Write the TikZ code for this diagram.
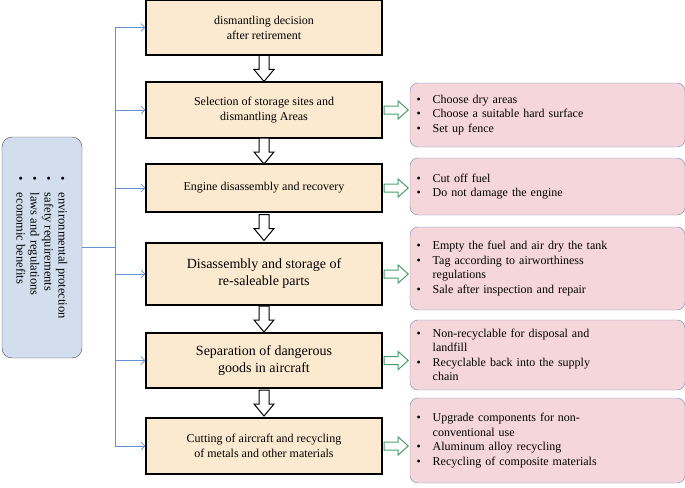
\documentclass[tikz,border=0pt]{standalone}
\usepackage{fontspec}
\setmainfont{Liberation Serif}
\usetikzlibrary{arrows.meta}
\definecolor{mainfill}{RGB}{252,234,208}
\definecolor{pinkfill}{RGB}{245,214,218}
\definecolor{bluefill}{RGB}{210,222,238}
\definecolor{bluedraw}{RGB}{110,140,190}
\definecolor{linecol}{RGB}{100,145,210}
\definecolor{greencol}{RGB}{70,160,110}
\begin{document}
\begin{tikzpicture}[x=1pt,y=-1pt,
 mainbox/.style={draw=black,line width=1.2pt,fill=mainfill,minimum width=236pt,align=center,font=\fontsize{12}{15}\selectfont,inner sep=2pt},
 infobox/.style={draw=bluedraw,fill=pinkfill,rounded corners=8pt,minimum width=275pt,text width=262pt,align=left,font=\fontsize{12}{14.5}\selectfont,inner sep=4pt},
 hollowd/.style={draw=black,fill=white,line width=1pt},
 hollowr/.style={draw=greencol,fill=white,line width=1pt},
 conn/.style={draw=linecol,thick,-{Straight Barb[length=4pt]}}]
\useasboundingbox (0,0) rectangle (685,487);
\node[mainbox,minimum height=55pt] (m1) at (264,27.5) {dismantling decision\\after retirement};
\node[mainbox,minimum height=56pt] (m2) at (264,110) {Selection of storage sites and\\dismantling Areas};
\node[mainbox,minimum height=48pt] (m3) at (264,188) {Engine disassembly and recovery};
\node[mainbox,minimum height=62pt,font=\fontsize{14}{17}\selectfont] (m4) at (264,274) {Disassembly and storage of\\re-saleable parts};
\node[mainbox,minimum height=55pt,font=\fontsize{14}{17}\selectfont] (m5) at (264,360.5) {Separation of dangerous\\goods in aircraft};
\node[mainbox,minimum height=56pt] (m6) at (264,446) {Cutting of aircraft and recycling\\of metals and other materials};
\foreach \a/\b in {m1/m2,m2/m3,m3/m4,m4/m5,m5/m6}{
 \path (\a.south) -- (\b.north) coordinate[midway] (c\a);
 \draw[hollowd,shift={(c\a)}] (-5,-13) -- (5,-13) -- (5,1) -- (10,1) -- (0,13) -- (-10,1) -- (-5,1) -- cycle;}
\node[infobox,minimum height=64pt] (r1) at (547.5,115) {\textbullet\quad Choose dry areas\\\textbullet\quad Choose a suitable hard surface\\\textbullet\quad Set up fence};
\node[infobox,minimum height=57pt] (r2) at (547.5,186.5) {\textbullet\quad Cut off fuel\\\textbullet\quad Do not damage the engine};
\node[infobox,minimum height=83pt] (r3) at (547.5,268.5) {\textbullet\quad Empty the fuel and air dry the tank\\\textbullet\quad Tag according to airworthiness\\\hphantom{\textbullet}\quad regulations\\\textbullet\quad Sale after inspection and repair};
\node[infobox,minimum height=70pt] (r4) at (547.5,355) {\textbullet\quad Non-recyclable for disposal and\\\hphantom{\textbullet}\quad landfill\\\textbullet\quad Recyclable back into the supply\\\hphantom{\textbullet}\quad chain};
\node[infobox,minimum height=85pt] (r5) at (547.5,440.5) {\textbullet\quad Upgrade components for non-\\\hphantom{\textbullet}\quad conventional use\\\textbullet\quad Aluminum alloy recycling\\\textbullet\quad Recycling of composite materials};
\foreach \a/\b in {m2/r1,m3/r2,m4/r3,m5/r4,m6/r5}{
 \path (\a.east) -- (\a.east -| \b.west) coordinate[midway] (d\a);
 \draw[hollowr,shift={(d\a)}] (-12,-4) -- (2,-4) -- (2,-9) -- (12,0) -- (2,9) -- (2,4) -- (-12,4) -- cycle;}
\node[draw=black!70,fill=bluefill,rounded corners=10pt,minimum width=80pt,minimum height=221pt,inner sep=0pt] (l) at (42,247.5) {};
\node[rotate=-90,align=left,font=\fontsize{12.5}{14}\selectfont] at (l.center) {\textbullet\quad environmental protection\\\textbullet\quad safety requirements\\\textbullet\quad laws and regulations\\\textbullet\quad economic benefits};
\coordinate (j) at (115,247.5);
\draw[draw=linecol,thick] (l.east) -- (j);
\draw[draw=linecol,thick] (j |- m1.west) -- (j |- m6.west);
\foreach \m in {m1,m2,m3,m4,m5,m6}{\draw[conn] (j |- \m.west) -- (\m.west);}
\end{tikzpicture}
\end{document}
